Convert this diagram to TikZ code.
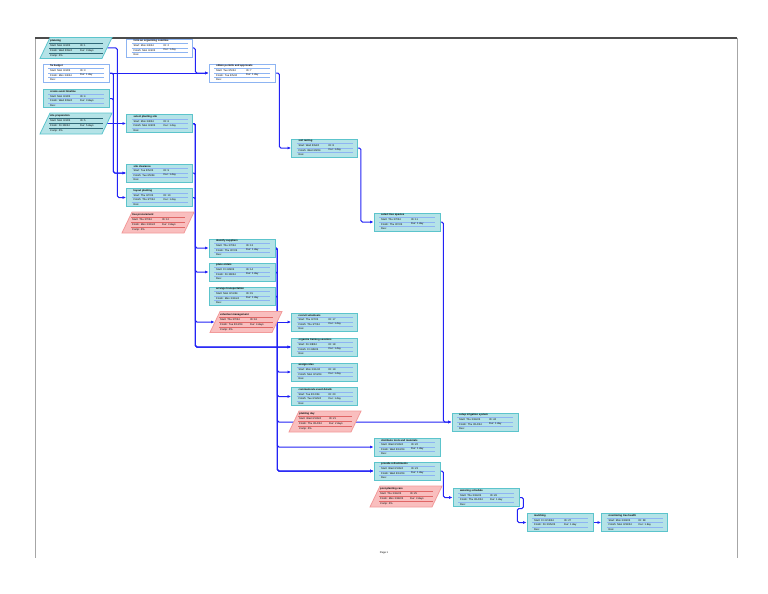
\documentclass[tikz,border=0pt]{standalone}
\usepackage{fontspec}
\setmainfont{Liberation Sans}
\usetikzlibrary{arrows.meta,backgrounds}

\definecolor{tealfill}{HTML}{B4E3E7}
\definecolor{tealline}{HTML}{5CC4CC}
\definecolor{tealdark}{HTML}{2E6878}
\definecolor{pinkfill}{HTML}{F9BEBE}
\definecolor{pinkline}{HTML}{F29A9A}
\definecolor{pinkdark}{HTML}{E06666}
\definecolor{paleblue}{HTML}{8DB4F2}
\definecolor{linkblue}{HTML}{2222F5}

\tikzset{
  tealbox/.style={rectangle, draw=tealline, fill=tealfill, line width=0.8pt,
    minimum width=66pt, minimum height=18pt, inner sep=0pt},
  whitebox/.style={tealbox, draw=paleblue, fill=white},
  tealsum/.style={rectangle, draw=tealline, fill=tealfill, line width=0.8pt,
    minimum width=62pt, minimum height=21pt, inner sep=0pt, xslant=0.48},
  pinksum/.style={tealsum, draw=pinkline, fill=pinkfill},
  tealsep/.style={draw=paleblue, line width=0.5pt},
  whitesep/.style={tealsep},
  tealsumsep/.style={draw=tealdark, line width=0.7pt},
  pinksumsep/.style={draw=pinkdark, line width=0.5pt},
  txt/.style={anchor=west, inner sep=0pt, font=\fontsize{2.6}{3}\selectfont},
  ttl/.style={txt, font=\fontsize{2.6}{3}\selectfont\bfseries},
  link/.style={draw=linkblue, line width=1pt, rounded corners=1.5pt,
    -{Latex[length=3.5pt,width=3pt]}},
  pageframe/.style={draw=black!35, line width=0.6pt}
}

% task box: style, name, position, title, start, id, finish, duration
\newcommand{\taskbox}[8]{%
  \node[#1box] (#2) at #3 {};
  \draw[#1sep] ([shift={(-28,-4.5)}]#2.center) -- ++(56,0)
               ([shift={(-28,0)}]#2.center) -- ++(56,0)
               ([shift={(-28,4.5)}]#2.center) -- ++(56,0);
  \node[ttl] at ([shift={(-26,-6.75)}]#2.center) {#4};
  \node[txt] at ([shift={(-26,-2.25)}]#2.center) {Start: #5};
  \node[txt] at ([shift={(4,-2.25)}]#2.center) {ID: #6};
  \node[txt] at ([shift={(-26,2.25)}]#2.center) {Finish: #7};
  \node[txt] at ([shift={(4,2.25)}]#2.center) {Dur: #8};
  \node[txt] at ([shift={(-26,6.75)}]#2.center) {Res:};
}

% summary box, slanted
\newcommand{\sumbox}[8]{%
  \node[#1sum] (#2) at #3 {};
  \draw[#1sumsep] ([shift={(-27,-5)}]#2.center) -- ++(54,0)
                  ([shift={(-27,0)}]#2.center) -- ++(54,0)
                  ([shift={(-27,5)}]#2.center) -- ++(54,0);
  \node[ttl] at ([shift={(-26,-7.5)}]#2.center) {#4};
  \node[txt] at ([shift={(-26,-2.5)}]#2.center) {Start: #5};
  \node[txt] at ([shift={(4,-2.5)}]#2.center) {ID: #6};
  \node[txt] at ([shift={(-26,2.5)}]#2.center) {Finish: #7};
  \node[txt] at ([shift={(4,2.5)}]#2.center) {Dur: #8};
  \node[txt] at ([shift={(-26,7.5)}]#2.center) {Comp: 0\%};
}

\begin{document}
\begin{tikzpicture}[x=1pt,y=-1pt]
\useasboundingbox (0,0) rectangle (768,594);

% page frame
\draw[pageframe] (35,38) -- (35,558);
\draw[pageframe] (737,38) -- (737,558);
\draw[draw=black!70, line width=1.6pt] (35,38) -- (737,38);
\node[txt, anchor=center] (pagenum) at (384,553) {Page 1};

% first column
\sumbox{teal}{planning}{(76,48)}{planning}{Mon 3/4/24}{1}{Wed 3/6/24}{3 days}
\taskbox{white}{budget}{(76,73)}{fix budget}{Mon 3/4/24}{3}{Mon 3/4/24}{1 day}
\taskbox{teal}{timeline}{(76,98.5)}{create event timeline}{Mon 3/4/24}{4}{Wed 3/6/24}{3 days}
\sumbox{teal}{siteprep}{(76,123.5)}{site preparation}{Mon 3/4/24}{5}{Fri 3/8/24}{5 days}

% second column
\taskbox{white}{committee}{(159.5,48)}{form an organizing comittee}{Mon 3/4/24}{2}{Mon 3/4/24}{1 day}
\taskbox{teal}{selsite}{(159.5,123.5)}{select planting site}{Mon 3/4/24}{6}{Mon 3/4/24}{1 day}
\taskbox{teal}{clearance}{(159.5,173)}{site clearance}{Tue 3/5/24}{9}{Tue 3/5/24}{1 day}
\taskbox{teal}{layout}{(159.5,197.5)}{layout planting}{Thu 3/7/24}{10}{Thu 3/7/24}{1 day}
\sumbox{pink}{treeproc}{(158,222.5)}{tree procurement}{Thu 3/7/24}{12}{Mon 3/11/24}{3 days}

% third column
\taskbox{white}{permits}{(242,73)}{obtain permits and approvals}{Tue 3/5/24}{7}{Tue 3/5/24}{1 day}
\taskbox{teal}{suppliers}{(242,248)}{identify suppliers}{Thu 3/7/24}{13}{Thu 3/7/24}{1 day}
\taskbox{teal}{orders}{(242,272)}{place orders}{Fri 3/8/24}{14}{Fri 3/8/24}{1 day}
\taskbox{teal}{transport}{(242,296)}{arrange transportation}{Mon 3/11/24}{15}{Mon 3/11/24}{1 day}
\sumbox{pink}{volunteer}{(246,322)}{volunteer management}{Thu 3/7/24}{16}{Tue 3/12/24}{4 days}

% fourth column
\taskbox{teal}{soiltest}{(324.5,148)}{soil testing}{Wed 3/6/24}{8}{Wed 3/6/24}{1 day}
\taskbox{teal}{recruit}{(324.5,322)}{recruit volunteers}{Thu 3/7/24}{17}{Thu 3/7/24}{1 day}
\taskbox{teal}{training}{(324.5,347)}{organize training sessions}{Fri 3/8/24}{18}{Fri 3/8/24}{1 day}
\taskbox{teal}{roles}{(324.5,372)}{assign roles}{Mon 3/11/24}{19}{Mon 3/11/24}{1 day}
\taskbox{teal}{details}{(324.5,396.5)}{communicate event details}{Tue 3/12/24}{20}{Tue 3/12/24}{1 day}
\sumbox{pink}{plantday}{(325,421.5)}{planting day}{Wed 3/13/24}{21}{Thu 3/14/24}{2 days}

% fifth column
\taskbox{teal}{species}{(407,222)}{select tree species}{Thu 3/7/24}{11}{Thu 3/7/24}{1 day}
\taskbox{teal}{tools}{(407,447)}{distribute tools and materials}{Wed 3/13/24}{22}{Wed 3/13/24}{1 day}
\taskbox{teal}{refresh}{(407,471)}{provide refreshments}{Wed 3/13/24}{23}{Wed 3/13/24}{1 day}
\sumbox{pink}{postcare}{(406,496.5)}{post-planting care}{Thu 3/14/24}{25}{Mon 3/18/24}{3 days}

% last columns
\taskbox{teal}{irrigation}{(485,422)}{setup irrigation system}{Thu 3/14/24}{24}{Thu 3/14/24}{1 day}
\taskbox{teal}{watering}{(486,497.5)}{watering schedule}{Thu 3/14/24}{26}{Thu 3/14/24}{1 day}
\taskbox{teal}{mulching}{(560,522.5)}{mulching}{Fri 3/15/24}{27}{Fri 3/15/24}{1 day}
\taskbox{teal}{monitor}{(634.5,522.5)}{monitoring tree health}{Mon 3/18/24}{28}{Mon 3/18/24}{1 day}

% links
\begin{scope}[on background layer]
  \draw[link] (planning.east) -- ++(10,0) |- (layout.west);
  \draw[link] (budget.east) -- (permits.west);
  \draw[link] (budget.east) -- ++(4,0) |- (clearance.west);
  \draw[link] (timeline.east) -- ++(4,0) |- (clearance.west);
  \draw[link] (siteprep.east) -- (selsite.west);
  \draw[link] (committee.east) -- ++(2.5,0) |- (permits.west);
  \foreach \succ in {suppliers,orders,volunteer,training}
    \draw[link] (selsite.east) -- ++(2.5,0) |- (\succ.west);
  \draw[link] (clearance.east) -- ++(2.5,0) |- (training.west);
  \draw[link] (layout.east) -- ++(2.5,0) |- (training.west);
  \draw[link] (permits.east) -- ++(4,0) |- (soiltest.west);
  \draw[link] (soiltest.east) -- ++(3,0) |- (species.west);
  \foreach \succ in {roles,details,irrigation,tools,refresh}
    \draw[link] (suppliers.east) -- ++(2,0) |- (\succ.west);
  \draw[link] (orders.east) -- ++(2,0) |- (refresh.west);
  \draw[link] (transport.east) -- ++(2,0) |- (refresh.west);
  \draw[link] (volunteer.east) -- (recruit.west);
  \draw[link] (species.east) -- ++(3,0) |- (irrigation.west);
  \draw[link] (refresh.east) -- ++(3,0) |- (watering.west);
  \draw[link] (watering.east) -- ++(4,0) -- ++(0,11) -- ++(-6,0) |- (mulching.west);
  \draw[link] (mulching.east) -- (monitor.west);
\end{scope}
\end{tikzpicture}
\end{document}
